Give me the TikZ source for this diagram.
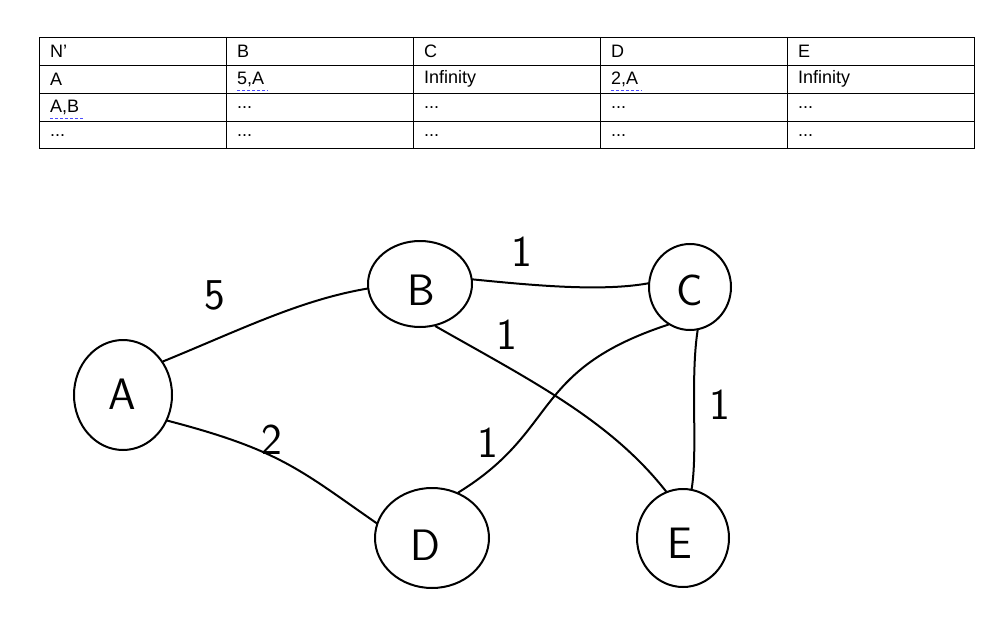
\documentclass[tikz,border=0pt]{standalone}
\usepackage{fontspec}
\setmainfont{Liberation Sans}
\usetikzlibrary{shapes.geometric}
\begin{document}
\begin{tikzpicture}[x=1pt,y=-1pt,
  cell/.style={anchor=west,font=\fontsize{18}{18}\selectfont,inner sep=0pt},
  vtx/.style={draw,line width=2pt,ellipse,inner sep=0pt},
  lbl/.style={font=\fontsize{44}{44}\selectfont\sffamily},
  edge/.style={line width=2pt,line cap=round}]
\useasboundingbox[fill=white] (0,0) rectangle (1005,634);
% table
\draw[line width=0.6pt] (39,37) rectangle (974,148);
\foreach \y in {65,93,121} \draw[line width=0.6pt] (39,\y) -- (974,\y);
\foreach \x in {226,413,600,787} \draw[line width=0.6pt] (\x,37) -- (\x,148);
\node[cell] (t1) at (50,51) {N’};
\node[cell] (t2) at (237,51) {B};
\node[cell] (t3) at (424,51) {C};
\node[cell] (t4) at (611,51) {D};
\node[cell] (t5) at (798,51) {E};
\node[cell] (t6) at (50,79) {A};
\node[cell] (t7) at (237,79) {5,A};
\node[cell] (t8) at (424,79) {Infinity};
\node[cell] (t9) at (611,79) {2,A};
\node[cell] (t10) at (798,79) {Infinity};
\node[cell] (t11) at (50,107) {A,B};
\foreach \x/\n in {237/a,424/b,611/c,798/d} \node[cell] (r3\n) at (\x,108) {...};
\foreach \x/\n in {50/a,237/b,424/c,611/d,798/e} \node[cell] (r4\n) at (\x,136) {...};
\foreach \a/\b/\y in {237/268/90,611/642/90,50/83/118}
  \draw[blue!70,densely dashed,line width=0.8pt] (\a,\y) -- (\b,\y);
% vertices
\node[vtx,minimum width=98pt,minimum height=110pt] (A) at (123,395) {};
\node[lbl] at (122,394) {A};
\node[vtx,minimum width=104pt,minimum height=86pt] (B) at (420,284) {};
\node[lbl] at (421,290) {B};
\node[vtx,minimum width=82pt,minimum height=86pt] (C) at (690,287) {};
\node[lbl] at (690,290) {C};
\node[vtx,minimum width=114pt,minimum height=100pt] (D) at (432,538) {};
\node[lbl] at (425,545) {D};
\node[vtx,minimum width=92pt,minimum height=98pt] (E) at (683,538) {};
\node[lbl] at (680,543) {E};
% edges
\draw[edge] (A.40) .. controls (240,330) and (300,300) .. (B.185);
\draw[edge] (B.5) .. controls (530,285) and (600,292) .. (C.175);
\draw[edge] (B.-70) .. controls (530,380) and (610,420) .. (E.110);
\draw[edge] (C.-120) .. controls (530,370) and (560,430) .. (D.60);
\draw[edge] (C.-80) .. controls (690,380) and (698,450) .. (E.80);
\draw[edge] (A.-30) .. controls (280,450) and (300,470) .. (D.165);
% weights
\node[lbl] (w1) at (215,295) {5};
\node[lbl] (w2) at (522,252) {1};
\node[lbl] (w3) at (507,335) {1};
\node[lbl] (w4) at (488,443) {1};
\node[lbl] (w5) at (720,405) {1};
\node[lbl] (w6) at (272,440) {2};
\end{tikzpicture}
\end{document}
